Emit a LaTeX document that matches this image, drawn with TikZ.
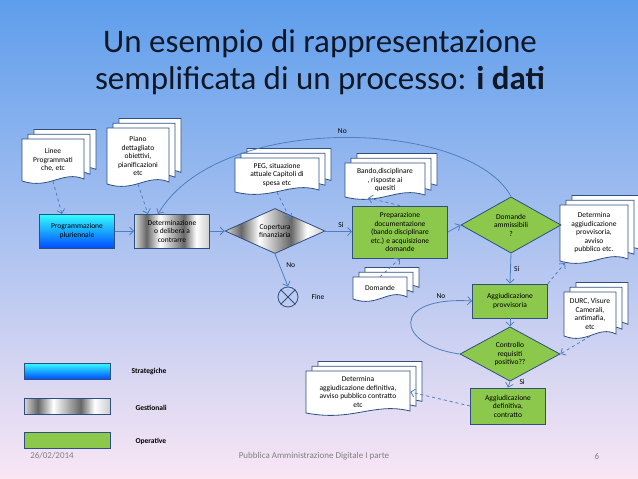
\documentclass[tikz,border=0pt]{standalone}
\usepackage{fontspec}
\setmainfont{Carlito}
\usetikzlibrary{shapes.geometric,arrows.meta}
\definecolor{lnk}{HTML}{4F7FC0}
\definecolor{bord}{HTML}{2F4F80}
\definecolor{grn}{HTML}{8CC84B}
\definecolor{ttl}{HTML}{101828}
\definecolor{bgtop}{HTML}{5E9EEC}
\definecolor{bgmid}{HTML}{B7D2F0}
\definecolor{bgbot}{HTML}{F9E6F4}
\pgfdeclarehorizontalshading{metal}{100bp}{color(0bp)=(gray!30);color(25bp)=(gray!30);color(33bp)=(gray!80!black);color(42bp)=(white);color(50bp)=(gray!60);color(58bp)=(gray!80!black);color(66bp)=(white);color(75bp)=(gray!40);color(100bp)=(gray!40)}
\tikzset{
 txt/.style={font=\fontsize{7.5}{8.5}\selectfont,align=center,inner sep=1pt},
 strat/.style={txt,draw=bord,thick,top color=cyan!80!white,bottom color=blue!70!cyan},
 gest/.style={txt,draw=bord,thick,shading=metal},
 oper/.style={txt,draw=bord,thick,fill=grn},
 dia/.style={txt,diamond,draw=bord,thick,inner sep=0pt},
 doctext/.style={txt,inner sep=1pt},
 sheet/.style={fill=white,draw=bord,thick},
 link/.style={draw=lnk,thick,-{Straight Barb[length=4pt]}},
 dlink/.style={link,dashed},
 lbl/.style={font=\fontsize{7.5}{8.5}\selectfont},
}
\newcommand\docsheet[5]{% cx cy w h shift
 \path[sheet] ({#1-#3/2+#5},{#2-#4/2-#5*0.8}) -- ({#1+#3/2+#5},{#2-#4/2-#5*0.8}) -- ({#1+#3/2+#5},{#2+#4/2-2-#5*0.8})
 .. controls ({#1+#3/2-0.35*#3+#5},{#2+#4/2-11-#5*0.8}) and ({#1-#3/2+0.45*#3+#5},{#2+#4/2+9-#5*0.8}) .. ({#1-#3/2+#5},{#2+#4/2-#5*0.8}) -- cycle;}
\newcommand\docs[6]{% name cx cy w h text
 \docsheet{#2}{#3}{#4}{#5}{12}\docsheet{#2}{#3}{#4}{#5}{6}\docsheet{#2}{#3}{#4}{#5}{0}
 \node[doctext,minimum width=#4,minimum height=#5] (#1) at (#2,#3) {#6};}
\begin{document}
\begin{tikzpicture}[x=1pt,y=-1pt]
\shade[top color=bgtop,middle color=bgmid,bottom color=bgbot] (0,0) rectangle (638,479);
\useasboundingbox (0,0) rectangle (638,479);
\node[text=ttl,font=\fontsize{33}{37}\selectfont,align=center] (title) at (320,62) {Un esempio di rappresentazione\\semplificata di un processo: \textbf{i dati}};
% documents
\docs{linee}{53}{160}{62}{42}{Linee\\Programmati\\che, etc}
\docs{piano}{138}{156}{62}{56}{Piano\\dettagliato\\obiettivi,\\pianificazioni\\etc}
\docs{peg}{277}{175}{84}{34}{PEG, situazione\\attuale Capitoli di\\spesa etc}
\docs{bando}{385}{180}{80}{34}{Bando,disciplinare\\, risposte ai\\quesiti}
\docs{detprov}{594}{233}{68}{56}{Determina\\aggiudicazione\\provvisoria,\\avviso\\pubblico etc.}
\docs{domdoc}{380}{288}{54}{22}{Domande}
\docs{durc}{590}{314}{52}{44}{DURC, Visure\\Camerali,\\antimafia,\\etc}
\docs{detdef}{358}{392}{104}{42}{Determina\\aggiudicazione definitiva,\\avviso pubblico contratto\\etc}
% process
\node[strat,minimum width=75,minimum height=34] (prog) at (77,231) {Programmazione\\pluriennale};
\node[gest,minimum width=75,minimum height=34] (det) at (172,231) {Determinazione\\o delibera a\\contrarre};
\node[dia,shading=metal,minimum width=100,minimum height=28] (cop) at (275,231) {Copertura\\finanziaria};
\node[oper,minimum width=95,minimum height=52] (prep) at (400,232) {Preparazione\\documentazione\\(bando disciplinare\\etc.) e acquisizione\\domande};
\node[dia,fill=grn,minimum width=100,minimum height=36] (amm) at (511,225) {Domande\\ammissibili\\?};
\node[oper,minimum width=75,minimum height=34] (aprov) at (510,301) {Aggiudicazione\\provvisoria};
\node[dia,fill=grn,minimum width=100,minimum height=36] (ctrl) at (510,354) {Controllo\\requisiti\\positivo??};
\node[oper,minimum width=75,minimum height=36] (adef) at (508,406) {Aggiudicazione\\definitiva,\\contratto};
\node[draw=bord,thick,circle,minimum size=20,inner sep=0pt] (fine) at (288,297) {};
\draw[bord,thick] (fine.north west) -- (fine.south east) (fine.north east) -- (fine.south west);
\node[lbl] (finel) at (318,297) {Fine};
% links
\draw[dlink] (linee.south) -- (62,214);
\draw[dlink] (piano.south) -- (148,214);
\draw[link] (prog) -- (det);
\draw[link] (det) -- (cop);
\draw[dlink] (peg.south) -- (290,219);
\draw[link] (cop) -- node[lbl,above,pos=0.6] {Si} (prep);
\draw[link] (cop.south) -- node[lbl,right,pos=0.35,xshift=3pt] {No} (fine.north);
\draw[dlink] (prep.north) -- (368,198);
\draw[dlink] (domdoc.north) -- (prep.south);
\draw[link] (prep.east) -- (amm.west);
\draw[link] (amm.south) -- node[lbl,right,pos=0.5] {Si} (aprov.north);
\draw[link] (amm.north) .. controls (470,120) and (220,110) .. node[lbl,above,pos=0.5] {No} (158,214);
\draw[dlink] (aprov.north east) -- (565,263);
\draw[link] (aprov) -- (ctrl);
\draw[dlink] (durc.south) -- (ctrl.east);
\draw[link] (ctrl.west) .. controls (395,345) and (390,296) .. node[lbl,above,pos=0.85] {No} (aprov.west);
\draw[link] (ctrl.south) -- node[lbl,right,pos=0.1,xshift=6pt] {Si} (adef.north);
\draw[dlink] (adef.west) -- (detdef.east);
% legend
\node[strat,minimum width=86,minimum height=16] (l1) at (67,371) {};
\node[gest,minimum width=86,minimum height=16] (l2) at (67,406) {};
\node[oper,minimum width=86,minimum height=16] (l3) at (67,440) {};
\node[lbl,font=\fontsize{7.5}{8.5}\selectfont\bfseries,anchor=west] (t1) at (128,372) {Strategiche};
\node[lbl,font=\fontsize{7.5}{8.5}\selectfont\bfseries,anchor=west] (t2) at (132,408) {Gestionali};
\node[lbl,font=\fontsize{7.5}{8.5}\selectfont\bfseries,anchor=west] (t3) at (132,441) {Operative};
% footer
\node[text=gray,font=\fontsize{9}{10}\selectfont] (f1) at (52,456) {26/02/2014};
\node[text=gray,font=\fontsize{9}{10}\selectfont] (f2) at (314,456) {Pubblica Amministrazione Digitale I parte};
\node[text=gray,font=\fontsize{9}{10}\selectfont] (f3) at (597,456) {6};
\end{tikzpicture}
\end{document}
